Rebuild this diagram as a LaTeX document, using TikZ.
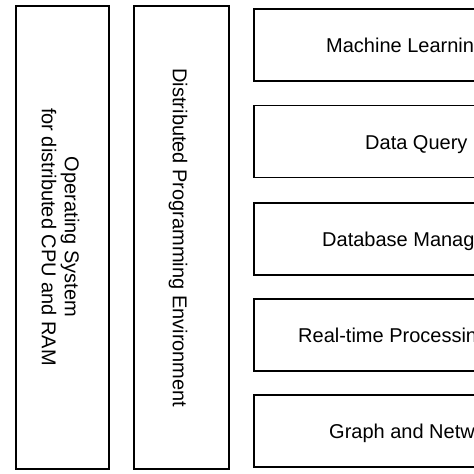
\documentclass[tikz,border=0pt]{standalone}
\usepackage{fontspec}
\setmainfont{Liberation Sans}
\begin{document}
\begin{tikzpicture}[x=1pt,y=-1pt,
  box/.style={draw,line width=1.6pt,inner sep=0pt},
  lbl/.style={font=\fontsize{20}{23}\selectfont,inner sep=0pt}]
\useasboundingbox (0,0) rectangle (474,474);
\clip (0,0) rectangle (474,474);
% left columns
\node[box,minimum width=93pt,minimum height=463pt] (os) at (62.5,237.5) {};
\node[lbl,rotate=-90,align=center] (ostext) at (60.5,237) {Operating System\\for distributed CPU and RAM};
\node[box,minimum width=95pt,minimum height=463pt] (dpe) at (181.5,237.5) {};
\node[lbl,rotate=-90] (dpetext) at (178,238) {Distributed Programming Environment};
% right stack, runs off the page
\foreach \y/\x/\t/\n in {45/326/Machine Learning/ml, 141.5/365/Data Query Processing/dq,
  239/322/Database Management/db, 335/298/Real-time Processing/rt, 431/329/Graph and Network Processing/gn}
{
  \node[box,minimum width=346pt,minimum height=72pt] (box\n) at (427,\y) {};
  \node[lbl,anchor=base west] (lbl\n) at (\x,\y+7.5) {\t};
}
\end{tikzpicture}
\end{document}
